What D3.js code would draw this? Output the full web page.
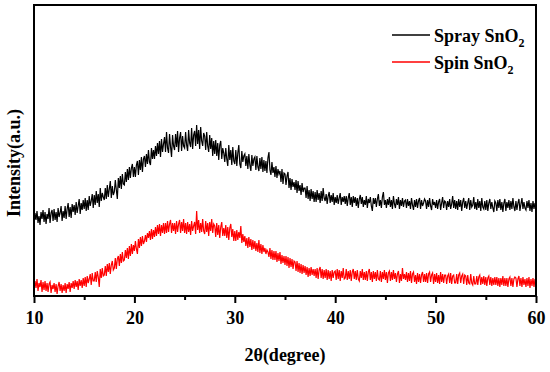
<!DOCTYPE html>
<html><head><meta charset="utf-8">
<script src="https://cdn.jsdelivr.net/npm/d3@7/dist/d3.min.js"></script>
<style>body{margin:0;background:#fff}svg{display:block}text{font-family:"Liberation Serif","Times New Roman",serif;font-weight:bold}</style>
</head><body>
<script>
// 2θ grid: 10.0 to 60.0 step 0.1 (501 points)
const twoThetaStart = 10, twoThetaStep = 0.1;
const xTicks = [10, 20, 30, 40, 50, 60];
const xMinorTicks = [15, 25, 35, 45, 55];
const seriesNames = ["Spray SnO", "Spin SnO"];
const spray = [
72,83,76,85,73,80,71,84,77,86,
74,84,72,82,77,88,73,83,86,75,
87,76,84,74,88,79,83,90,75,85,
78,90,77,87,93,79,89,78,92,84,
91,81,94,83,90,97,82,93,86,96,
87,98,85,96,86,100,90,95,102,88,
101,91,105,93,102,89,108,95,103,99,
96,108,97,111,99,107,115,98,110,101,
104,116,106,97,118,108,120,107,122,112,
111,124,114,127,116,129,118,128,132,119,
129,119,131,135,121,136,126,139,124,137,
140,129,142,132,146,134,131,148,137,146,
137,150,140,153,142,155,139,157,144,152,
159,144,164,148,143,162,149,139,161,150,
146,162,149,165,144,158,164,145,160,150,
148,164,151,145,166,153,149,168,147,161,
165,150,171,152,166,147,169,155,150,163,
160,146,164,150,144,161,147,158,140,155,
142,156,140,153,136,151,155,137,148,143,
134,148,137,130,151,136,146,131,149,135,
132,146,130,143,151,132,128,145,134,140,
142,130,140,127,142,131,125,141,130,137,
139,126,140,129,125,138,127,139,124,136,
125,135,123,138,144,126,121,134,123,129,
119,130,118,127,122,125,114,127,112,123,
122,111,120,124,108,118,106,117,109,114,
106,116,103,115,105,111,101,113,104,108,
108,98,110,97,106,95,107,97,105,94,
104,94,106,96,103,93,105,95,108,98,
95,102,92,100,104,93,101,94,103,91,
99,93,101,92,98,103,91,99,94,100,
92,100,90,98,103,91,99,89,100,93,
99,90,98,88,97,101,92,99,89,96,
91,100,88,97,93,99,90,85,98,92,
98,89,97,102,90,96,88,99,104,91,
96,88,97,91,99,89,96,87,100,92,
88,97,91,99,87,96,90,98,89,95,
96,88,97,90,95,87,98,91,86,96,
89,97,88,95,98,87,96,90,93,97,
95,87,96,89,98,90,86,97,91,94,
88,96,87,94,97,86,93,99,88,95,
94,86,95,89,97,87,92,100,88,96,
87,95,86,97,89,96,85,94,98,88,
95,87,93,98,86,96,89,91,99,87,
94,86,97,88,95,85,98,89,87,95,
86,96,85,93,97,87,94,88,84,95,
93,85,96,88,97,86,94,84,93,97,
85,94,88,96,86,95,87,98,89,85,
95,86,93,97,85,92,98,87,94,88,
86,95,88,96,85,93,84,95,87,93,
90];
const spin = [
6,15,8,17,5,13,9,16,4,14,
6,15,5,13,4,12,14,3,11,7,
13,4,12,2,10,14,5,12,3,11,
5,13,3,12,7,14,4,13,8,15,
7,16,9,15,6,17,10,16,8,18,
10,19,9,20,13,17,22,11,23,15,
15,24,14,25,19,9,27,18,28,20,
21,30,20,32,24,33,22,31,35,26,
28,38,27,37,40,30,42,33,44,35,
36,46,38,48,37,50,40,52,42,51,
45,55,47,42,57,48,59,50,60,52,
55,61,54,63,58,65,56,67,57,66,
59,69,60,71,62,72,60,71,63,73,
62,73,63,75,64,72,76,63,73,65,
73,62,75,64,72,76,63,74,65,77,
63,73,62,74,64,72,61,75,65,70,
74,62,85,66,76,63,73,64,77,65,
62,75,64,73,60,74,65,77,63,72,
70,59,73,61,71,58,69,74,60,68,
60,71,58,69,56,68,72,59,67,55,
65,55,66,56,64,58,70,53,62,54,
60,50,58,48,59,49,57,46,56,47,
55,45,53,44,56,43,52,42,51,44,
48,42,46,44,39,48,37,46,36,45,
36,45,34,43,35,44,32,41,33,40,
31,40,30,39,28,38,29,37,27,35,
34,25,35,24,33,23,32,22,31,23,
30,21,29,19,28,20,29,21,27,20,
27,18,28,17,26,29,18,27,17,26,
18,27,16,26,17,25,15,26,18,24,
25,16,27,17,26,15,25,18,28,17,
18,27,16,25,17,26,15,24,27,17,
25,16,26,17,15,25,18,27,16,24,
16,25,15,24,27,16,24,14,25,17,
24,15,26,17,16,25,14,24,17,26,
16,24,13,23,25,15,24,16,26,17,
23,14,22,25,13,22,15,28,17,22,
16,24,14,23,15,25,13,22,24,14,
21,12,23,14,22,13,21,24,14,22,
14,23,13,22,24,14,21,23,12,22,
14,23,13,21,12,24,14,22,13,21,
21,12,20,22,13,23,12,20,21,13,
13,22,12,21,23,13,20,22,12,21,
20,11,21,13,12,22,13,11,20,12,
12,20,11,19,21,11,19,12,20,11,
19,10,18,20,11,19,10,18,11,19,
11,19,10,18,9,18,11,20,10,18,
10,18,9,17,19,10,18,9,17,19,
18,9,17,20,10,18,9,19,11,17,
9,18,10,19,8,17,10,18,9,17,
13];
const colors = ["#000000", "#ff0000"];

const W = 550, H = 372;
const L = 34, R = 536, T = 5, B = 296;
const svg = d3.select("body").append("svg").attr("width", W).attr("height", H);
const x = d3.scaleLinear().domain([10, 60]).range([L, R]);
const y = d3.scaleLinear().domain([0, 291]).range([B, T]);

const line = d3.line().x((d, i) => x(twoThetaStart + i * twoThetaStep)).y(d => y(d));
svg.append("defs").append("clipPath").attr("id", "c").append("rect")
  .attr("x", L).attr("y", T).attr("width", R - L).attr("height", B - T);
const g = svg.append("g").attr("clip-path", "url(#c)");
g.append("path").datum(spin).attr("d", line).attr("fill", "none").attr("stroke", colors[1]).attr("stroke-width", 1.2);
g.append("path").datum(spray).attr("d", line).attr("fill", "none").attr("stroke", colors[0]).attr("stroke-width", 1.2);

// frame
svg.append("rect").attr("x", L).attr("y", T).attr("width", R - L).attr("height", B - T)
  .attr("fill", "none").attr("stroke", "#000").attr("stroke-width", 2);

// x axis
const ax = svg.append("g").attr("transform", `translate(0,${B})`)
  .call(d3.axisBottom(x).tickValues(xTicks).tickSize(7).tickPadding(8).tickFormat(d3.format("d")));
ax.select(".domain").remove();
ax.selectAll(".tick line").attr("stroke", "#000").attr("stroke-width", 2);
ax.selectAll(".tick text").attr("font-size", 18).attr("fill", "#000")
  .style("font-family", '"Liberation Serif","Times New Roman",serif').style("font-weight", "bold");
const axm = svg.append("g").attr("transform", `translate(0,${B})`)
  .call(d3.axisBottom(x).tickValues(xMinorTicks).tickSize(4).tickFormat(""));
axm.select(".domain").remove();
axm.selectAll(".tick line").attr("stroke", "#000").attr("stroke-width", 2);

svg.append("text").attr("x", (L + R) / 2).attr("y", 361).attr("text-anchor", "middle")
  .attr("font-size", 18).text("2θ(degree)");
svg.append("text").attr("transform", "translate(20,163) rotate(-90)").attr("text-anchor", "middle")
  .attr("font-size", 18).text("Intensity(a.u.)");

// legend
const leg = svg.append("g");
seriesNames.forEach((n, i) => {
  const yy = 35 + i * 27;
  leg.append("line").attr("x1", 392).attr("x2", 430).attr("y1", yy).attr("y2", yy)
    .attr("stroke", colors[i]).attr("stroke-width", 1.5);
  const t = leg.append("text").attr("x", 434).attr("y", yy + 7).attr("font-size", 18).attr("fill", "#000");
  t.append("tspan").text(n);
  t.append("tspan").attr("font-size", 12).attr("dy", 5).text("2");
});
</script>
</body></html>
